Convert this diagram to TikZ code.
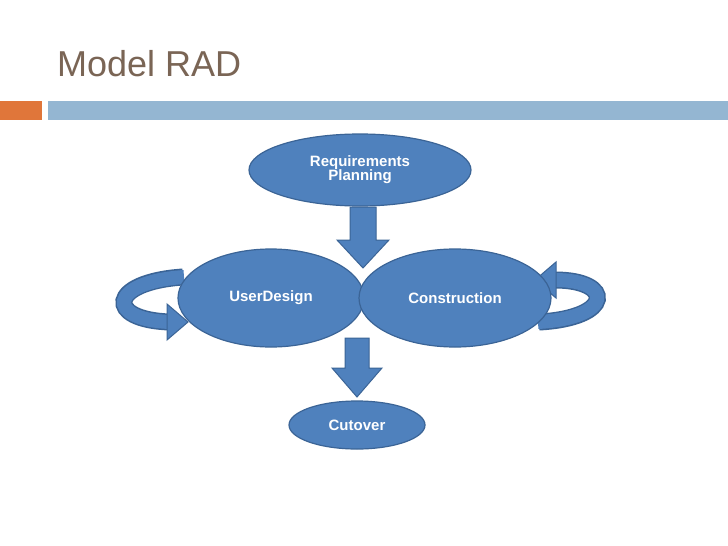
\documentclass[tikz,border=0pt]{standalone}
\usepackage{fontspec}
\setmainfont{Liberation Sans}
\usetikzlibrary{shapes.geometric}
\definecolor{fillb}{HTML}{4F81BD}
\definecolor{edgeb}{HTML}{3B6496}
\definecolor{titlec}{HTML}{7A6555}
\definecolor{orangec}{HTML}{E0763A}
\definecolor{barb}{HTML}{94B6D2}
\begin{document}
\begin{tikzpicture}[x=1pt,y=-1pt,
  ell/.style={ellipse, fill=fillb, draw=edgeb, line width=1.2pt, inner sep=0pt},
  lbl/.style={text=white, font=\bfseries\fontsize{15}{17}\selectfont, align=center},
  blk/.style={fill=fillb, draw=edgeb, line width=1pt, line join=miter}]
\useasboundingbox (0,0) rectangle (728,546);
\fill[white] (0,0) rectangle (728,546);
\node[anchor=base west, text=titlec, font=\fontsize{36}{40}\selectfont, inner sep=0pt] (title) at (57,76) {Model RAD};
\fill[orangec] (0,101) rectangle (42,120);
\fill[barb] (48,101) rectangle (728,120);
% curved arrows
\draw[edgeb, line width=17pt] (183,277) .. controls (108,282) and (105,320) .. (170,322);
\draw[fillb, line width=14pt] (184,277) .. controls (108,282) and (105,320) .. (170,322);
\draw[blk] (167,304) -- (188,322) -- (167,340) -- cycle;
\draw[edgeb, line width=17pt] (539,322) .. controls (614,318) and (614,280) .. (555,280);
\draw[fillb, line width=14pt] (538,322) .. controls (614,318) and (614,280) .. (555,280);
\draw[blk] (556,262) -- (535,280) -- (556,298) -- cycle;
% ellipses
\node[ell, minimum width=222pt, minimum height=72pt] (req) at (360,170) {};
\node[ell, minimum width=186pt, minimum height=98pt] (ud) at (271,298) {};
\node[ell, minimum width=192pt, minimum height=98pt] (con) at (455,298) {};
\node[ell, minimum width=136pt, minimum height=48pt] (cut) at (357,425) {};
\node[lbl] at (req) {Requirements\\[-3pt]Planning};
\node[lbl] at (ud) {UserDesign};
\node[lbl] at (con) {Construction};
\node[lbl] at (cut) {Cutover};
% block arrows
\draw[blk] (350,207) -- (376,207) -- (376,240) -- (389,240) -- (363,268) -- (337,240) -- (350,240) -- cycle;
\draw[blk] (345,338) -- (369,338) -- (369,368) -- (382,368) -- (357,397) -- (332,368) -- (345,368) -- cycle;
\end{tikzpicture}
\end{document}
